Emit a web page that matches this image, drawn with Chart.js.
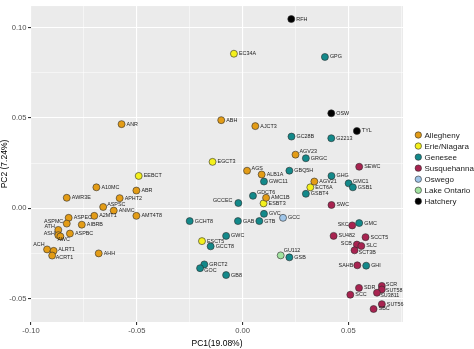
<!DOCTYPE html>
<html>
<head>
<meta charset="utf-8">
<script src="https://cdn.jsdelivr.net/npm/chart.js@4.4.1/dist/chart.umd.min.js"></script>
<style>
  html, body { margin: 0; padding: 0; background: #fff; }
</style>
</head>
<body>
<canvas id="chart" width="474" height="349"></canvas>
<script>
// [name, PC1, PC2]
const allegheny = [
  ["ANR", -0.0572, 0.0466], ["ABH", -0.0101, 0.0488], ["AJCT3", 0.0060, 0.0455],
  ["AGV23", 0.0250, 0.0297], ["AGS", 0.0021, 0.0208], ["ALB1A", 0.0090, 0.0187],
  ["AGV21", 0.0339, 0.0148], ["AMC1B", 0.0111, 0.0058], ["ABR", -0.0502, 0.0098],
  ["A10MC", -0.0691, 0.0116], ["AWR3E", -0.0831, 0.0058], ["APHT2", -0.0581, 0.0056],
  ["ASPSC", -0.0659, 0.0007], ["ANMC", -0.0609, -0.0013], ["AMT4T8", -0.0502, -0.0042],
  ["A2MT1", -0.0701, -0.0042], ["ASPEC", -0.0822, -0.0053], ["ASPMC", -0.0831, -0.0085],
  ["AIBRB", -0.0760, -0.0091], ["ATH", -0.0871, -0.0120], ["ASH", -0.0871, -0.0149],
  ["ASPBC", -0.0816, -0.0140], ["AWC", -0.0861, -0.0156], ["ACH", -0.0924, -0.0228],
  ["ALRT1", -0.0893, -0.0236], ["ACRT1", -0.0900, -0.0262], ["AHH", -0.0680, -0.0250]
];
const erieNiagara = [
  ["EC34A", -0.0041, 0.0856], ["EEBCT", -0.0491, 0.0179], ["EGCT3", -0.0142, 0.0257],
  ["ECT6A", 0.0320, 0.0116], ["ESBT3", 0.0099, 0.0027], ["ESCT5", -0.0192, -0.0182]
];
const genesee = [
  ["GPG", 0.0389, 0.0838], ["GC28B", 0.0231, 0.0397], ["G2213", 0.0419, 0.0388],
  ["GRGC", 0.0299, 0.0277], ["GBQ5H", 0.0221, 0.0208], ["GWC11", 0.0101, 0.0148],
  ["GHG", 0.0420, 0.0179], ["GMC1", 0.0501, 0.0138], ["GSB1", 0.0521, 0.0116],
  ["GSBT4", 0.0299, 0.0080], ["GDCT6", 0.0049, 0.0069], ["GCCEC", -0.0020, 0.0029],
  ["GCHT8", -0.0250, -0.0071], ["GAB", -0.0022, -0.0071], ["GTB", 0.0079, -0.0071],
  ["GVC", 0.0101, -0.0031], ["GMC", 0.0551, -0.0082], ["GWC", -0.0078, -0.0153],
  ["GCCT8", -0.0151, -0.0211], ["GSB", 0.0221, -0.0272], ["GRCT2", -0.0181, -0.0311],
  ["GOC", -0.0201, -0.0332], ["GB8", -0.0078, -0.0370], ["GHI", 0.0584, -0.0318]
];
const susquehanna = [
  ["SEWC", 0.0551, 0.0230], ["SWC", 0.0420, 0.0018], ["SKC", 0.0518, -0.0095],
  ["SU482", 0.0430, -0.0153], ["SCCT5", 0.0581, -0.0160], ["SCB", 0.0540, -0.0201],
  ["SLC", 0.0561, -0.0209], ["SCT3B", 0.0529, -0.0233], ["SAHB", 0.0542, -0.0316],
  ["SDR", 0.0550, -0.0441], ["SCR", 0.0658, -0.0430], ["SUT58", 0.0658, -0.0450],
  ["SU3811", 0.0635, -0.0468], ["SCC", 0.0509, -0.0479], ["SUT56", 0.0658, -0.0531],
  ["SBC", 0.0619, -0.0558]
];
const oswego = [["GCC", 0.0191, -0.0053]];
const lakeOntario = [["GU112", 0.0180, -0.0261]];
const hatchery = [["RFH", 0.0230, 0.1048], ["OSW", 0.0419, 0.0526], ["TYL", 0.0540, 0.0428]];

const groupNames = ["Allegheny", "Erie/Niagara", "Genesee", "Susquehanna", "Oswego", "Lake Ontario", "Hatchery"];
const groupData = [allegheny, erieNiagara, genesee, susquehanna, oswego, lakeOntario, hatchery];
const groupColors = ["#E39C16", "#F4F01C", "#13898A", "#A82350", "#9FC5E8", "#A2E3A0", "#000000"];

const xMajorTicks = [-0.10, -0.05, 0.00, 0.05];
const xTickLabels = ["-0.10", "-0.05", "0.00", "0.05"];
const yMajorTicks = [-0.05, 0.00, 0.05, 0.10];
const yTickLabels = ["-0.05", "0.00", "0.05", "0.10"];

// label placement tweaks (like ggrepel did): [dx, dy, align]
const labelNudge = {
  ASPMC: [-3.5, -2, "right"], ATH: [-3.5, -3, "right"], ASH: [-3.5, -2, "right"],
  ACH: [-2.5, -4.5, "right"], AWC: [-3, 3, "left"], ACRT1: [3.5, 1.7], ALRT1: [4.5, -1.3],
  ASPSC: [4, -2.4], AGS: [4.5, -2.3], GDCT6: [4, -3.3], GCCEC: [-6, -2.7, "right"],
  AGV23: [4, -2.7], GMC1: [4.4, -2], GU112: [3, -4.4], GOC: [4.3, 2], SCT3B: [4, 2],
  SKC: [-3.5, -0.6, "right"], SCB: [-5, -1.5, "right"], SAHB: [-4, 0, "right"],
  SCR: [4, -1.5], SU3811: [3.3, 3], SUT58: [4, 1]
};

const isMajor = v => Math.abs(v / 0.05 - Math.round(v / 0.05)) < 1e-6;
const gridValues = (min, max) => {
  const out = [];
  for (let i = Math.ceil(min / 0.025 - 1e-6); i * 0.025 <= max + 1e-9; i++) out.push(+(i * 0.025).toFixed(3));
  return out;
};
const labelFor = (majors, labels) => value => {
  const i = majors.findIndex(t => Math.abs(t - value) < 1e-9);
  return i >= 0 ? labels[i] : "";
};

const panelBg = {
  id: "panelBg",
  beforeDraw(chart) {
    const { ctx, chartArea: a } = chart;
    ctx.save();
    ctx.fillStyle = "#EBEBEB";
    ctx.fillRect(a.left, a.top, a.right - a.left, a.bottom - a.top);
    ctx.restore();
  }
};

const pointLabels = {
  id: "pointLabels",
  afterDatasetsDraw(chart) {
    const ctx = chart.ctx;
    ctx.save();
    ctx.font = '5.4px "Liberation Sans", Arial, sans-serif';
    ctx.fillStyle = "#222";
    ctx.textBaseline = "middle";
    chart.data.datasets.forEach((ds, di) => {
      chart.getDatasetMeta(di).data.forEach((el, i) => {
        const name = ds.data[i].name;
        const n = labelNudge[name] || [5, 0, "left"];
        ctx.textAlign = n[2] || "left";
        ctx.fillText(name, el.x + n[0], el.y + n[1]);
      });
    });
    ctx.restore();
  }
};

const sideLegend = {
  id: "sideLegend",
  afterDraw(chart) {
    const ctx = chart.ctx;
    ctx.save();
    ctx.font = '8px "Liberation Sans", Arial, sans-serif';
    ctx.textBaseline = "middle";
    ctx.textAlign = "left";
    chart.data.datasets.forEach((ds, i) => {
      const y = 135 + i * 11.05;
      ctx.beginPath();
      ctx.arc(418.3, y, 3.2, 0, Math.PI * 2);
      ctx.fillStyle = ds.backgroundColor;
      ctx.fill();
      ctx.lineWidth = 0.6;
      ctx.strokeStyle = "#2b2b2b";
      ctx.stroke();
      ctx.fillStyle = "#1a1a1a";
      ctx.fillText(ds.label, 424.5, y + 0.5);
    });
    ctx.restore();
  }
};

const datasets = groupNames.map((g, i) => ({
  label: g,
  data: groupData[i].map(p => ({ x: p[1], y: p[2], name: p[0] })),
  backgroundColor: groupColors[i],
  borderColor: "#2b2b2b",
  borderWidth: 0.6,
  pointRadius: 3.5,
  pointHoverRadius: 3.5
}));

const tickFont = { family: '"Liberation Sans", Arial, sans-serif', size: 7.6 };
const titleFont = { family: '"Liberation Sans", Arial, sans-serif', size: 8.5 };

new Chart(document.getElementById("chart"), {
  type: "scatter",
  data: { datasets },
  options: {
    responsive: false,
    animation: false,
    devicePixelRatio: 1,
    events: [],
    layout: { padding: { left: 0, top: 1, right: 71, bottom: 0 } },
    plugins: {
      legend: { display: false },
      tooltip: { enabled: false }
    },
    scales: {
      x: {
        type: "linear",
        min: -0.1,
        max: 0.0758,
        afterBuildTicks: ax => { ax.ticks = gridValues(-0.1, 0.0758).map(v => ({ value: v })); },
        afterFit: ax => { ax.height = 27; },
        border: { display: false },
        grid: {
          color: "#FFFFFF",
          lineWidth: c => isMajor(c.tick.value) ? 1.1 : 0.5,
          tickColor: c => isMajor(c.tick.value) ? "#333333" : "rgba(0,0,0,0)",
          tickLength: 3
        },
        ticks: {
          autoSkip: false,
          maxRotation: 0,
          padding: 1.5,
          color: "#4D4D4D",
          font: tickFont,
          callback: labelFor(xMajorTicks, xTickLabels)
        },
        title: { display: true, text: "PC1(19.08%)", color: "#000", font: titleFont, padding: { top: 2, bottom: 0 } }
      },
      y: {
        type: "linear",
        min: -0.063,
        max: 0.112,
        afterBuildTicks: ax => { ax.ticks = gridValues(-0.063, 0.112).map(v => ({ value: v })); },
        afterFit: ax => { ax.width = 31; },
        border: { display: false },
        grid: {
          color: "#FFFFFF",
          lineWidth: c => isMajor(c.tick.value) ? 1.1 : 0.5,
          tickColor: c => isMajor(c.tick.value) ? "#333333" : "rgba(0,0,0,0)",
          tickLength: 3
        },
        ticks: {
          autoSkip: false,
          padding: 1.5,
          color: "#4D4D4D",
          font: tickFont,
          callback: labelFor(yMajorTicks, yTickLabels)
        },
        title: { display: true, text: "PC2 (7.24%)", color: "#000", font: titleFont, padding: { top: 0, bottom: 1 } }
      }
    }
  },
  plugins: [panelBg, pointLabels, sideLegend]
});
</script>
</body>
</html>
